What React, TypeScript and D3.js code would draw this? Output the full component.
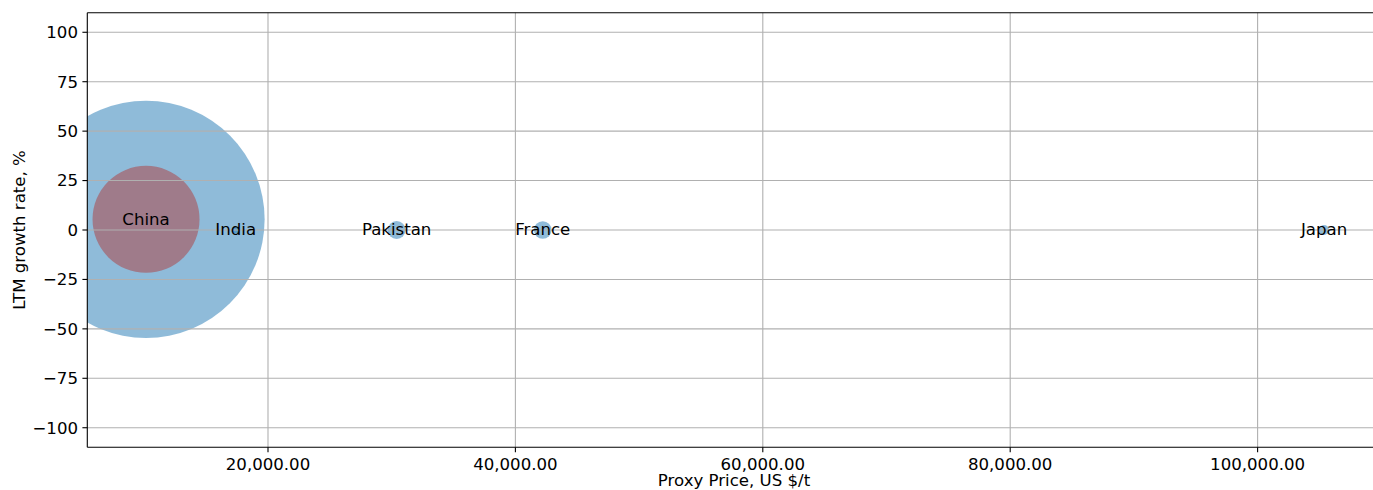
import React from "react";
import * as d3 from "d3";

const countries = ["China", "India", "Pakistan", "France", "Japan"];
const proxyPrice = [10140, 17390, 30400, 42210, 105370];
const growthRate = [5.4, 0, 0, 0, 0];
const volume = [1400000, 1220, 8060, 7720, 2490];
const highlightCountries = ["China"];
const highlightVolume = [284850];
const xTicks = [20000, 40000, 60000, 80000, 100000];
const yTicks = [-100, -75, -50, -25, 0, 25, 50, 75, 100];

const W = 1373;
const H = 490;
const left = 87.3;
const right = 1380;
const top = 12.7;
const bottom = 447.3;

export default function App() {
  const x = d3.scaleLinear().domain([5392, 109895]).range([left, right]);
  const y = d3.scaleLinear().domain([-109.9, 109.9]).range([bottom, top]);
  const r = d3.scaleSqrt().domain([0, 1400000]).range([0, 118.6]);
  const fmt = d3.format(",.2f");
  const minus = (v: number) => (v < 0 ? "\u2212" + Math.abs(v) : String(v));
  const font = "DejaVu Sans, sans-serif";
  const gridColor = "#b0b0b0";
  const fs = 16.6;

  return (
    <svg
      width={W}
      height={H}
      style={{ position: "absolute", left: 0, top: 0, background: "#fff" }}
      fontFamily={font}
    >
      <defs>
        <clipPath id="plot">
          <rect x={left} y={top} width={right - left} height={bottom - top} />
        </clipPath>
      </defs>
      <g clipPath="url(#plot)">
        {countries.map((c, i) => (
          <circle
            key={"b" + c}
            cx={x(proxyPrice[i])}
            cy={y(growthRate[i])}
            r={r(volume[i])}
            fill="#1f77b4"
            fillOpacity={0.5}
          />
        ))}
        {highlightCountries.map((c, i) => {
          const idx = countries.indexOf(c);
          return (
            <circle
              key={"h" + c}
              cx={x(proxyPrice[idx])}
              cy={y(growthRate[idx])}
              r={r(highlightVolume[i])}
              fill="#9f7b8a"
            />
          );
        })}
      </g>
      {xTicks.map((t) => (
        <line key={"gx" + t} x1={x(t)} x2={x(t)} y1={top} y2={bottom} stroke={gridColor} strokeWidth={1.1} />
      ))}
      {yTicks.map((t) => (
        <line key={"gy" + t} x1={left} x2={right} y1={y(t)} y2={y(t)} stroke={gridColor} strokeWidth={1.1} />
      ))}
      {countries.map((c, i) => (
        <text
          key={"t" + c}
          x={x(proxyPrice[i])}
          y={y(growthRate[i]) + 5.2}
          textAnchor="middle"
          fontSize={fs}
          fill="#000"
        >
          {c}
        </text>
      ))}
      <line x1={left} x2={left} y1={top} y2={bottom} stroke="#000" strokeWidth={1.1} />
      <line x1={left} x2={right} y1={bottom} y2={bottom} stroke="#000" strokeWidth={1.1} />
      <line x1={left} x2={right} y1={top} y2={top} stroke="#000" strokeWidth={1.1} />
      {xTicks.map((t) => (
        <g key={"xt" + t}>
          <line x1={x(t)} x2={x(t)} y1={bottom} y2={bottom + 4.9} stroke="#000" strokeWidth={1.1} />
          <text x={x(t)} y={470} textAnchor="middle" fontSize={fs} fill="#000">
            {fmt(t)}
          </text>
        </g>
      ))}
      {yTicks.map((t) => (
        <g key={"yt" + t}>
          <line x1={left - 4.9} x2={left} y1={y(t)} y2={y(t)} stroke="#000" strokeWidth={1.1} />
          <text x={78} y={y(t) + 5.8} textAnchor="end" fontSize={fs} fill="#000">
            {minus(t)}
          </text>
        </g>
      ))}
      <text x={734} y={485.5} textAnchor="middle" fontSize={fs} fill="#000">
        Proxy Price, US $/t
      </text>
      <text
        transform={`translate(25, ${(top + bottom) / 2}) rotate(-90)`}
        textAnchor="middle"
        fontSize={fs}
        fill="#000"
      >
        LTM growth rate, %
      </text>
    </svg>
  );
}
